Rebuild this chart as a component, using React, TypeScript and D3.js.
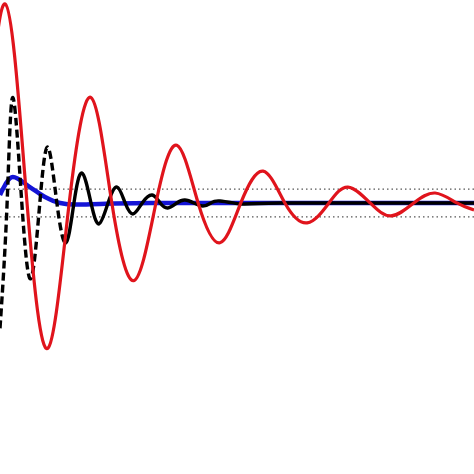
import { useEffect, useRef } from "react";
import * as d3 from "d3";

// time axis runs 0..10, response values are relative to the settled level (0)
const redT = [-0.36, 0.11, 0.57, 1.01, 1.46, 1.92, 2.36, 2.83, 3.29, 3.73, 4.18, 4.64, 5.08, 5.55, 6.01, 6.48, 6.94, 7.34, 7.81, 8.25, 8.73, 9.18, 9.64, 10.0];
const redV = [0, 1.0, 0, -0.73, 0, 0.53, 0, -0.39, 0, 0.29, 0, -0.2, 0, 0.16, 0, -0.1, 0, 0.08, 0, -0.065, 0, 0.05, 0, -0.035];

const blackT = [0, 0.15, 0.27, 0.46, 0.65, 0.84, 1.01, 1.2, 1.39, 1.56, 1.73, 1.92, 2.09, 2.28, 2.47, 2.64, 2.81, 3.0, 3.21, 3.38, 3.54, 3.73, 3.9, 4.09, 4.28, 4.45, 4.64, 5.06, 5.9, 10.0];
const blackV = [-0.63, 0, 0.53, 0, -0.38, 0, 0.28, 0, -0.2, 0, 0.15, 0, -0.105, 0, 0.08, 0, -0.055, 0, 0.04, 0, -0.025, 0, 0.015, 0, -0.015, 0, 0.01, -0.005, 0, 0];
const blackDashEnd = 1.39;

const blueT = [0, 0.27, 0.63, 0.95, 1.27, 1.58, 2.11, 3.16, 10.0];
const blueV = [0.04, 0.13, 0.08, 0.03, 0, -0.008, -0.005, 0, 0];

const bandLevels = [0.07, -0.07];

const W = 474;
const H = 474;

export default function App() {
  const ref = useRef<SVGSVGElement>(null);

  useEffect(() => {
    document.body.style.margin = "0";
    const svg = d3.select(ref.current);
    svg.selectAll("*").remove();

    const x = d3.scaleLinear().domain([0, 10]).range([0, W]);
    const y = d3.scaleLinear().domain([-1.362, 1.02]).range([H, 0]);

    const defs = svg.append("defs");
    defs.append("clipPath").attr("id", "dashPart")
      .append("rect").attr("x", 0).attr("y", 0)
      .attr("width", x(blackDashEnd)).attr("height", H);
    defs.append("clipPath").attr("id", "solidPart")
      .append("rect").attr("x", x(blackDashEnd)).attr("y", 0)
      .attr("width", W - x(blackDashEnd)).attr("height", H);

    // dotted tolerance band
    svg.selectAll("line.band")
      .data(bandLevels)
      .enter()
      .append("line")
      .attr("class", "band")
      .attr("x1", x(0))
      .attr("x2", x(10))
      .attr("y1", (d) => y(d))
      .attr("y2", (d) => y(d))
      .attr("stroke", "#555")
      .attr("stroke-width", 1.2)
      .attr("stroke-dasharray", "1.5,3");

    const pts = (t: number[], v: number[]) => t.map((tt, i) => [tt, v[i]] as [number, number]);

    const smooth = d3.line<[number, number]>()
      .x((d) => x(d[0]))
      .y((d) => y(d[1]))
      .curve(d3.curveNatural);
    const mono = d3.line<[number, number]>()
      .x((d) => x(d[0]))
      .y((d) => y(d[1]))
      .curve(d3.curveMonotoneX);

    svg.append("path")
      .attr("d", mono(pts(blueT, blueV)))
      .attr("fill", "none")
      .attr("stroke", "#1414d6")
      .attr("stroke-width", 4.5);

    const blackPath = smooth(pts(blackT, blackV));
    svg.append("path")
      .attr("d", blackPath)
      .attr("clip-path", "url(#dashPart)")
      .attr("fill", "none")
      .attr("stroke", "#000")
      .attr("stroke-width", 3.4)
      .attr("stroke-dasharray", "8,4");
    svg.append("path")
      .attr("d", blackPath)
      .attr("clip-path", "url(#solidPart)")
      .attr("fill", "none")
      .attr("stroke", "#000")
      .attr("stroke-width", 3.4);

    svg.append("path")
      .attr("d", smooth(pts(redT, redV)))
      .attr("fill", "none")
      .attr("stroke", "#e0141c")
      .attr("stroke-width", 3.2);
  }, []);

  return <svg ref={ref} width={W} height={H} style={{ display: "block", background: "#fff" }} />;
}
